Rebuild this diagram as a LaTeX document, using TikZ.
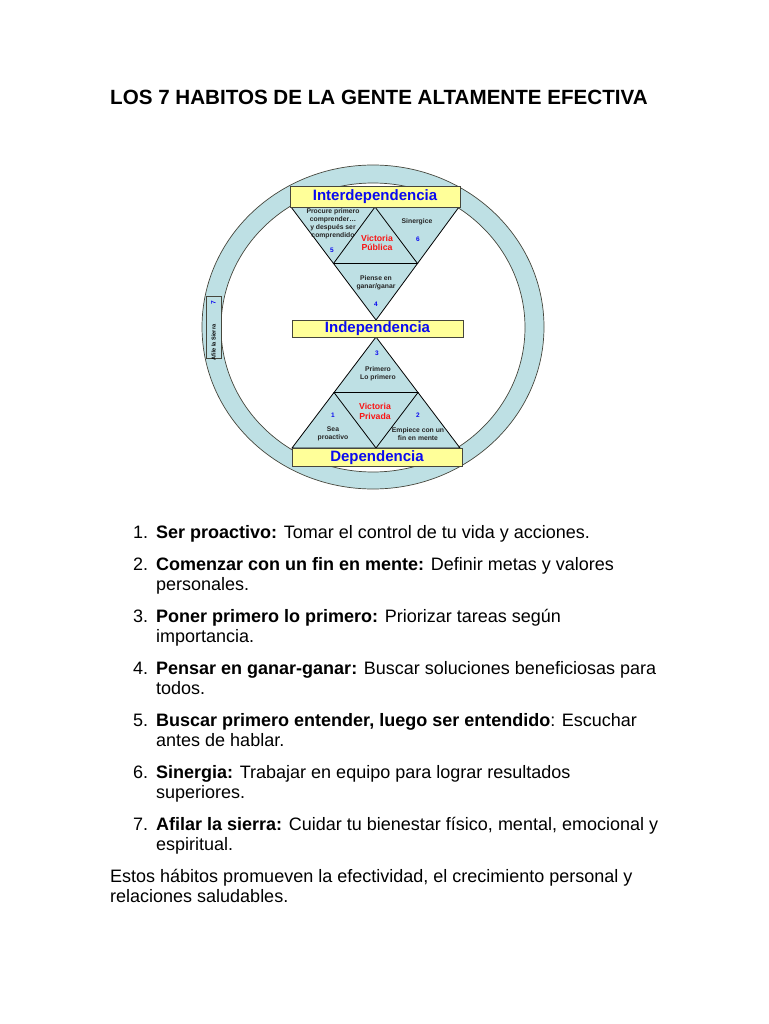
\documentclass[tikz,border=0pt]{standalone}
\usepackage{fontspec}
\setmainfont{Liberation Sans}
\definecolor{ringblue}{RGB}{190,224,228}
\definecolor{boxyellow}{RGB}{255,255,153}
\definecolor{lblue}{RGB}{10,10,240}
\definecolor{lred}{RGB}{250,20,20}
\definecolor{edgegray}{RGB}{70,70,60}
\tikzset{
  levelbox/.style={draw=edgegray, line width=0.8pt, fill=boxyellow},
  levellabel/.style={font=\fontsize{15}{16}\selectfont\bfseries, text=lblue, inner sep=0pt},
  tri/.style={draw=black, line width=0.8pt, fill=ringblue, line join=miter},
  small/.style={font=\fontsize{6.8}{8}\selectfont\bfseries, text=black!85, align=center, inner sep=0pt},
  num/.style={font=\fontsize{6.5}{7}\selectfont\bfseries, text=lblue, inner sep=0pt},
  victory/.style={font=\fontsize{8.7}{9.6}\selectfont\bfseries, text=lred, align=center, inner sep=0pt},
  body/.style={font=\fontsize{18}{20.7}\selectfont, anchor=base west, inner sep=0pt},
}
\begin{document}
\begin{tikzpicture}[x=1pt,y=-1pt]
\useasboundingbox (0,0) rectangle (768,1024);
% title
\node[anchor=base west, inner sep=0pt, font=\fontsize{20.6}{24}\selectfont\bfseries] (title) at (110,105) {LOS 7 HABITOS DE LA GENTE ALTAMENTE EFECTIVA};
% ring
\fill[ringblue, even odd rule] (373,327) ellipse [x radius=171, y radius=162] (373,327.5) ellipse [x radius=152, y radius=144.5];
\draw[edgegray, line width=0.7pt] (373,327) ellipse [x radius=171, y radius=162];
\draw[edgegray, line width=0.7pt] (373,327.5) ellipse [x radius=152, y radius=144.5];
% afile la sierra box
\node[draw=edgegray, line width=0.7pt, fill=ringblue, minimum width=15pt, minimum height=62pt, inner sep=0pt] (sierrabox) at (213.5,327) {};
\node[rotate=90, font=\fontsize{5.6}{6}\selectfont\bfseries, inner sep=0pt] (sierra) at (213.5,342.5) {Afile la Sierra};
\node[rotate=90, num] (n7) at (213.5,303) {7};
% upper triangle
\coordinate (UL) at (291,207); \coordinate (UR) at (459,207); \coordinate (UA) at (376,320);
\coordinate (UM) at (375,207); \coordinate (ULM) at (333.5,263.5); \coordinate (URM) at (417.5,263.5);
\draw[tri] (UL) -- (UR) -- (UA) -- cycle;
\draw[tri, fill=none] (UM) -- (ULM) -- (URM) -- cycle;
% lower triangle
\coordinate (LL) at (292,448); \coordinate (LR) at (460,448); \coordinate (LA) at (376,337);
\coordinate (LM) at (376,448); \coordinate (LLM) at (334,392.5); \coordinate (LRM) at (418,392.5);
\draw[tri] (LL) -- (LR) -- (LA) -- cycle;
\draw[tri, fill=none] (LM) -- (LLM) -- (LRM) -- cycle;
% level boxes
\draw[levelbox] (290,186) rectangle (460,207);
\node[levellabel] (inter) at (375,197) {Interdependencia};
\draw[levelbox] (292,320) rectangle (463,337);
\node[levellabel] (indep) at (377.5,329) {Independencia};
\draw[levelbox] (292,448) rectangle (462,466);
\node[levellabel] (dep) at (377,457.5) {Dependencia};
% upper labels
\node[small] (h5) at (333,223.5) {Procure primero\\comprender…\\y después ser\\comprendido};
\node[num] (n5) at (332,250) {5};
\node[victory] (vpub) at (377,243) {Victoria\\Pública};
\node[small] (h6) at (417,222) {Sinergice};
\node[num] (n6) at (418,239) {6};
\node[small] (h4) at (376,283) {Piense en\\ganar/ganar};
\node[num] (n4) at (376,304) {4};
% lower labels
\node[num] (n3) at (377,353) {3};
\node[small] (h3) at (378,373.5) {Primero\\Lo primero};
\node[victory] (vpriv) at (375,411.5) {Victoria\\Privada};
\node[num] (n1) at (333,415) {1};
\node[small] (h1) at (333,434) {Sea\\proactivo};
\node[num] (n2) at (418,415) {2};
\node[small] (h2) at (418,434) {Empiece con un\\fin en mente};
% list
\node[body] (i1n) at (133,538) {1.};
\node[body] (i1) at (156,538) {\textbf{Ser proactivo:} Tomar el control de tu vida y acciones.};
\node[body] (i2n) at (133,570) {2.};
\node[body] (i2) at (156,570) {\textbf{Comenzar con un fin en mente:} Definir metas y valores};
\node[body] (i2b) at (156,590.5) {personales.};
\node[body] (i3n) at (133,622) {3.};
\node[body] (i3) at (156,622) {\textbf{Poner primero lo primero:} Priorizar tareas según};
\node[body] (i3b) at (156,642.5) {importancia.};
\node[body] (i4n) at (133,674) {4.};
\node[body] (i4) at (156,674) {\textbf{Pensar en ganar-ganar:} Buscar soluciones beneficiosas para};
\node[body] (i4b) at (156,694.5) {todos.};
\node[body] (i5n) at (133,726) {5.};
\node[body] (i5) at (156,726) {\textbf{Buscar primero entender, luego ser entendido}: Escuchar};
\node[body] (i5b) at (156,746.5) {antes de hablar.};
\node[body] (i6n) at (133,778) {6.};
\node[body] (i6) at (156,778) {\textbf{Sinergia:} Trabajar en equipo para lograr resultados};
\node[body] (i6b) at (156,798.5) {superiores.};
\node[body] (i7n) at (133,830) {7.};
\node[body] (i7) at (156,830) {\textbf{Afilar la sierra:} Cuidar tu bienestar físico, mental, emocional y};
\node[body] (i7b) at (156,850.5) {espiritual.};
\node[body] (c1) at (110,882) {Estos hábitos promueven la efectividad, el crecimiento personal y};
\node[body] (c2) at (110,902.5) {relaciones saludables.};
\end{tikzpicture}
\end{document}
